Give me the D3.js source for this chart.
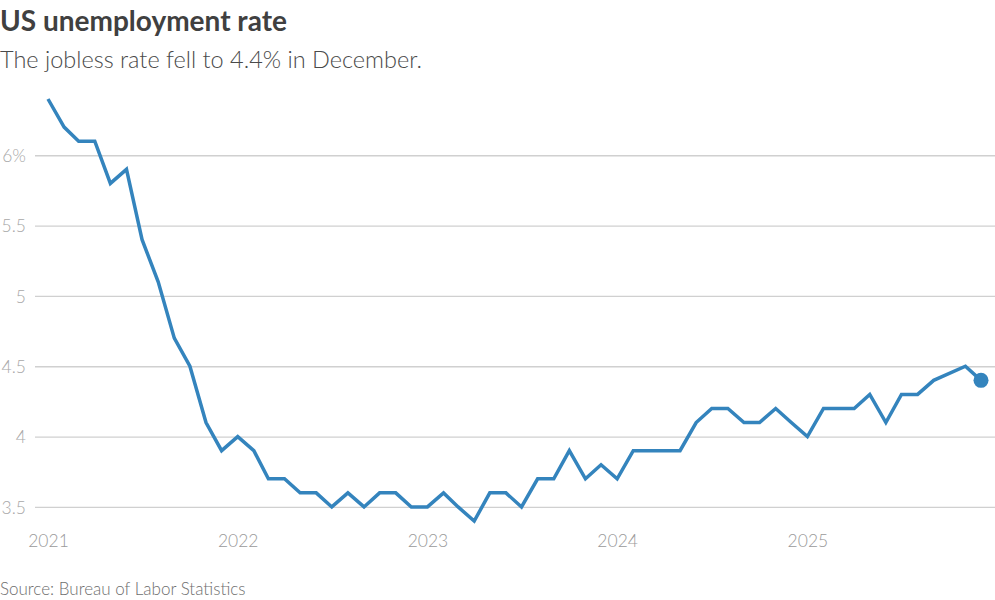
<!DOCTYPE html>
<html>
<head>
<meta charset="utf-8">
<script src="https://cdn.jsdelivr.net/npm/d3@7"></script>
<style>
  body { margin: 0; background: #fff; }
  svg { display: block; font-family: Lato, "Noto Sans", sans-serif; }
</style>
</head>
<body>
<svg id="chart"></svg>
<script>
// monthly unemployment rate, %; October 2025 was not published
const rates2021 = [6.4, 6.2, 6.1, 6.1, 5.8, 5.9, 5.4, 5.1, 4.7, 4.5, 4.1, 3.9];
const rates2022 = [4.0, 3.9, 3.7, 3.7, 3.6, 3.6, 3.5, 3.6, 3.5, 3.6, 3.6, 3.5];
const rates2023 = [3.5, 3.6, 3.5, 3.4, 3.6, 3.6, 3.5, 3.7, 3.7, 3.9, 3.7, 3.8];
const rates2024 = [3.7, 3.9, 3.9, 3.9, 3.9, 4.1, 4.2, 4.2, 4.1, 4.1, 4.2, 4.1];
const rates2025 = [4.0, 4.2, 4.2, 4.2, 4.3, 4.1, 4.3, 4.3, 4.4, null, 4.5, 4.4];
const years = [2021, 2022, 2023, 2024, 2025];
const yTicks = [3.5, 4, 4.5, 5, 5.5, 6];

const width = 995, height = 600;
const margin = { top: 99, right: 14, bottom: 79, left: 48 };

const data = [];
[rates2021, rates2022, rates2023, rates2024, rates2025].forEach((arr, i) => {
  arr.forEach((v, m) => data.push({ date: new Date(years[i], m, 1), value: v }));
});
const points = data.filter(d => d.value !== null);

const svg = d3.select('#chart')
  .attr('width', width)
  .attr('height', height);

const x = d3.scaleTime()
  .domain([new Date(2021, 0, 1), new Date(2025, 11, 1)])
  .range([margin.left, width - margin.right]);

const y = d3.scaleLinear()
  .domain([3.4, 6.4])
  .range([height - margin.bottom, margin.top]);

// title block
svg.append('text')
  .attr('x', 0).attr('y', 31)
  .attr('font-size', 28).attr('font-weight', 700)
  .attr('fill', '#404040')
  .text('US unemployment rate');

svg.append('text')
  .attr('x', 0).attr('y', 68)
  .attr('font-size', 23.5).attr('font-weight', 300)
  .attr('fill', '#4a4a4a')
  .text('The jobless rate fell to 4.4% in December.');

// y grid + labels
svg.append('g')
  .attr('transform', `translate(${width},0)`)
  .call(d3.axisLeft(y).tickValues(yTicks).tickSize(width - 35)
    .tickFormat(d => d === 6 ? '6%' : d3.format('')(d)))
  .call(g => g.select('.domain').remove())
  .call(g => g.selectAll('.tick line').attr('stroke', '#d0d0d0').attr('stroke-width', 1.3))
  .call(g => g.selectAll('.tick text')
    .attr('x', -(width - 26)).attr('dx', 0).attr('dy', '0.35em')
    .attr('fill', '#a8a8a8').attr('font-size', 17.5).attr('font-weight', 300)
    .attr('font-family', 'Lato, "Noto Sans", sans-serif'));

// x axis labels
svg.append('g')
  .attr('transform', `translate(0,${height - margin.bottom})`)
  .call(d3.axisBottom(x).tickValues(years.map(yr => new Date(yr, 0, 1)))
    .tickFormat(d3.timeFormat('%Y')).tickSize(0).tickPadding(14))
  .call(g => g.select('.domain').remove())
  .call(g => g.selectAll('.tick text')
    .attr('fill', '#9a9a9a').attr('font-size', 17.5).attr('font-weight', 300)
    .attr('font-family', 'Lato, "Noto Sans", sans-serif'));

const line = d3.line()
  .x(d => x(d.date))
  .y(d => y(d.value));

svg.append('path')
  .datum(points)
  .attr('fill', 'none')
  .attr('stroke', '#3484bd')
  .attr('stroke-width', 3.5)
  .attr('stroke-linejoin', 'miter')
  .attr('d', line);

const last = points[points.length - 1];
svg.append('circle')
  .attr('cx', x(last.date))
  .attr('cy', y(last.value))
  .attr('r', 7.5)
  .attr('fill', '#3484bd');

svg.append('text')
  .attr('x', 0).attr('y', 595)
  .attr('font-size', 17).attr('font-weight', 300)
  .attr('fill', '#6e6e6e')
  .text('Source: Bureau of Labor Statistics');
</script>
</body>
</html>
